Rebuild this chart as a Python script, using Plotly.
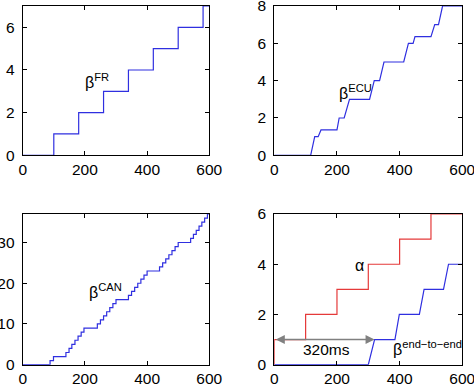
import plotly.graph_objects as go

# ---- data ----
fr_x = [0, 100, 180, 260, 340, 420, 500, 580, 600]
fr_y = [0, 1, 2, 3, 4, 5, 6, 7, 7]

ecu_x = [0, 116, 129, 140, 149, 200, 207, 223, 240, 304, 319, 336, 350, 413, 428, 443, 449, 500, 512, 524, 537, 600]
ecu_y = [0, 0, 1, 1, 1.36, 1.36, 2, 2, 3, 3, 4, 4, 5, 5, 6, 6, 6.36, 6.36, 7, 7, 8, 8]

can_x = [0, 88, 99, 139, 149, 158, 168, 178, 188, 197,
         240, 250, 260, 270, 280, 290, 300,
         340, 350, 360, 370, 380, 390, 400,
         440, 450, 460, 470, 480, 490, 500,
         540, 549, 558, 567, 576, 585, 594, 600]
can_y = [0, 1, 2, 3, 4, 5, 6, 7, 8, 9,
         10, 11, 12, 13, 14, 15, 16,
         17, 18, 19, 20, 21, 22, 23,
         24, 25, 26, 27, 28, 29, 30,
         31, 32, 33, 34, 35, 36, 37, 37]

alpha_x = [0, 0, 100, 200, 300, 400, 500, 600]
alpha_y = [0, 1, 2, 3, 4, 5, 6, 6]

e2e_x = [0, 300, 320, 385, 399, 463, 478, 540, 556, 600]
e2e_y = [0, 0, 1, 1, 2, 2, 3, 3, 4, 4]

x_ticks = [0, 200, 400, 600]
BLUE = "#2f2fe0"
RED = "#e53a3a"

fig = go.Figure()
fig.add_trace(go.Scatter(x=fr_x, y=fr_y, mode="lines", line=dict(color=BLUE, width=1.2, shape="hv"), xaxis="x", yaxis="y"))
fig.add_trace(go.Scatter(x=ecu_x, y=ecu_y, mode="lines", line=dict(color=BLUE, width=1.2), xaxis="x2", yaxis="y2"))
fig.add_trace(go.Scatter(x=can_x, y=can_y, mode="lines", line=dict(color=BLUE, width=1.2, shape="hv"), xaxis="x3", yaxis="y3"))
fig.add_trace(go.Scatter(x=alpha_x, y=alpha_y, mode="lines", line=dict(color=RED, width=1.2, shape="hv"), xaxis="x4", yaxis="y4"))
fig.add_trace(go.Scatter(x=e2e_x, y=e2e_y, mode="lines", line=dict(color=BLUE, width=1.2), xaxis="x4", yaxis="y4"))

W, H = 474, 385
xd_left = [22.7 / W, 209.3 / W]
xd_right = [274.3 / W, 462.3 / W]
yd_top = [(H - 155.3) / H, (H - 6) / H]
yd_bot = [(H - 364.7) / H, (H - 214) / H]

font = dict(family="Liberation Sans, Arial, sans-serif", size=15.5, color="black")

def ax(domain, anchor, rng, tickvals, standoff):
    return dict(domain=domain, anchor=anchor, range=rng, tickvals=tickvals,
                showgrid=False, zeroline=False, showline=True, linecolor="black",
                linewidth=1, mirror="ticks", ticks="inside", ticklen=4, tickcolor="black",
                tickfont=font, fixedrange=True, automargin=False,
                ticklabelstandoff=standoff, ticklabeloverflow="allow")

fig.update_layout(
    width=W, height=H, margin=dict(l=0, r=0, t=0, b=0, pad=0),
    paper_bgcolor="white", plot_bgcolor="white", showlegend=False,
    font=font,
    xaxis=ax(xd_left, "y", [0, 600], x_ticks, 0),
    yaxis=ax(yd_top, "x", [0, 7], [0, 2, 4, 6], 4),
    xaxis2=ax(xd_right, "y2", [0, 600], x_ticks, 0),
    yaxis2=ax(yd_top, "x2", [0, 8], [0, 2, 4, 6, 8], 4),
    xaxis3=ax(xd_left, "y3", [0, 600], x_ticks, 0),
    yaxis3=ax(yd_bot, "x3", [0, 37], [0, 10, 20, 30], 4),
    xaxis4=ax(xd_right, "y4", [0, 600], x_ticks, 0),
    yaxis4=ax(yd_bot, "x4", [0, 6], [0, 2, 4, 6], 4),
)

lab = dict(family="Liberation Sans, Arial, sans-serif", size=16, color="black")
fig.add_annotation(x=193, y=3.5, xref="x", yref="y", text="β<sup>FR</sup>", showarrow=False, xanchor="left", yanchor="middle", font=lab)
fig.add_annotation(x=200, y=3.4, xref="x2", yref="y2", text="β<sup>ECU</sup>", showarrow=False, xanchor="left", yanchor="middle", font=lab)
fig.add_annotation(x=207, y=18, xref="x3", yref="y3", text="β<sup>CAN</sup>", showarrow=False, xanchor="left", yanchor="middle", font=lab)
fig.add_annotation(x=272, y=3.96, xref="x4", yref="y4", text="α", showarrow=False, xanchor="center", yanchor="middle", font=lab)
fig.add_annotation(x=372, y=0.66, xref="x4", yref="y4", text="β<sup>end−to−end</sup>", showarrow=False, xanchor="left", yanchor="middle", font=lab)
fig.add_annotation(x=167, y=0.6, xref="x4", yref="y4", text="320ms", showarrow=False, xanchor="center", yanchor="middle", font=dict(family="Liberation Sans, Arial, sans-serif", size=15.5, color="black"))
# double-headed arrow
fig.add_annotation(x=320, y=1, ax=0, ay=1, xref="x4", yref="y4", axref="x4", ayref="y4",
                   text="", showarrow=True, arrowhead=2, startarrowhead=2, arrowside="end+start",
                   arrowsize=1.2, startarrowsize=1.2, arrowwidth=1.5, arrowcolor="#808080")

fig.write_html("out.html", config={"displayModeBar": False},
               post_script="document.body.style.margin='0';document.body.style.overflow='hidden';")
